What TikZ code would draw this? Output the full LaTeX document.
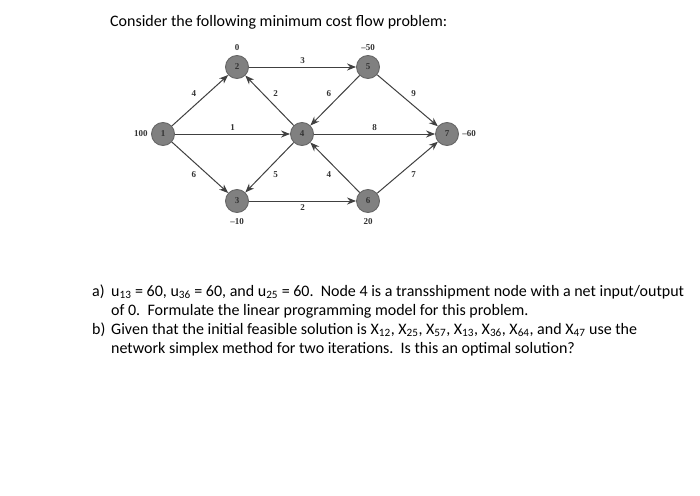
\documentclass[tikz,border=0pt]{standalone}
\usepackage{fontspec}
\setmainfont{Carlito}
\newfontfamily\lblfont{Liberation Serif}
\usetikzlibrary{arrows.meta,positioning}
\begin{document}
\begin{tikzpicture}[x=1pt,y=-1pt,
  nd/.style={circle,draw=black!60,fill=black!50,line width=0.9pt,minimum size=23pt,inner sep=0pt,font=\lblfont\bfseries\fontsize{9}{9}\selectfont,text=black!80},
  ed/.style={draw=black!75,line width=1pt,-{Stealth[length=9pt,width=7pt]}},
  lb/.style={font=\lblfont\bfseries\fontsize{9}{9}\selectfont,text=black!80},
  txt/.style={anchor=base west,font=\fontsize{16}{16}\selectfont,inner sep=0pt}]
\useasboundingbox[fill=white] (0,0) rectangle (700,495);
\node[nd] (n1) at (163,134) {1};
\node[nd] (n2) at (237,67) {2};
\node[nd] (n5) at (368,67) {5};
\node[nd] (n4) at (302,134) {4};
\node[nd] (n7) at (447,134) {7};
\node[nd] (n3) at (237,201) {3};
\node[nd] (n6) at (368,201) {6};
\node[lb,left=0pt of n1] (s1) {100};
\node[lb,above=1pt of n2] (s2) {0};
\node[lb,above=1pt of n5] (s5) {\textendash50};
\node[lb,right=0pt of n7] (s7) {\textendash60};
\node[lb,below=2pt of n3] (s3) {\textendash10};
\node[lb,below=2pt of n6] (s6) {20};
\draw[ed] (n1) -- node[lb,above left] {4} (n2);
\draw[ed] (n1) -- node[lb,above] {1} (n4);
\draw[ed] (n1) -- node[lb,below left] {6} (n3);
\draw[ed] (n2) -- node[lb,above] {3} (n5);
\draw[ed] (n4) -- node[lb,above right] {2} (n2);
\draw[ed] (n5) -- node[lb,above left] {6} (n4);
\draw[ed] (n5) -- node[lb,above right] {9} (n7);
\draw[ed] (n4) -- node[lb,above] {8} (n7);
\draw[ed] (n4) -- node[lb,below right] {5} (n3);
\draw[ed] (n6) -- node[lb,below left] {4} (n4);
\draw[ed] (n6) -- node[lb,below right] {7} (n7);
\draw[ed] (n3) -- node[lb,below] {2} (n6);
\node[txt] (t0) at (110,27) {Consider the following minimum cost flow problem:};
\node[txt] (ta) at (92,296) {a)};
\node[txt] (ta1) at (111,296) {u\textsubscript{13} = 60, u\textsubscript{36} = 60, and u\textsubscript{25} = 60.\ \ Node 4 is a transshipment node with a net input/output};
\node[txt] (ta2) at (111,315) {of 0.\ \ Formulate the linear programming model for this problem.};
\node[txt] (tb) at (92,334) {b)};
\node[txt] (tb1) at (111,334) {Given that the initial feasible solution is X\textsubscript{12}, X\textsubscript{25}, X\textsubscript{57}, X\textsubscript{13}, X\textsubscript{36}, X\textsubscript{64}, and X\textsubscript{47} use the};
\node[txt] (tb2) at (111,353) {network simplex method for two iterations.\ \ Is this an optimal solution?};
\end{tikzpicture}
\end{document}
